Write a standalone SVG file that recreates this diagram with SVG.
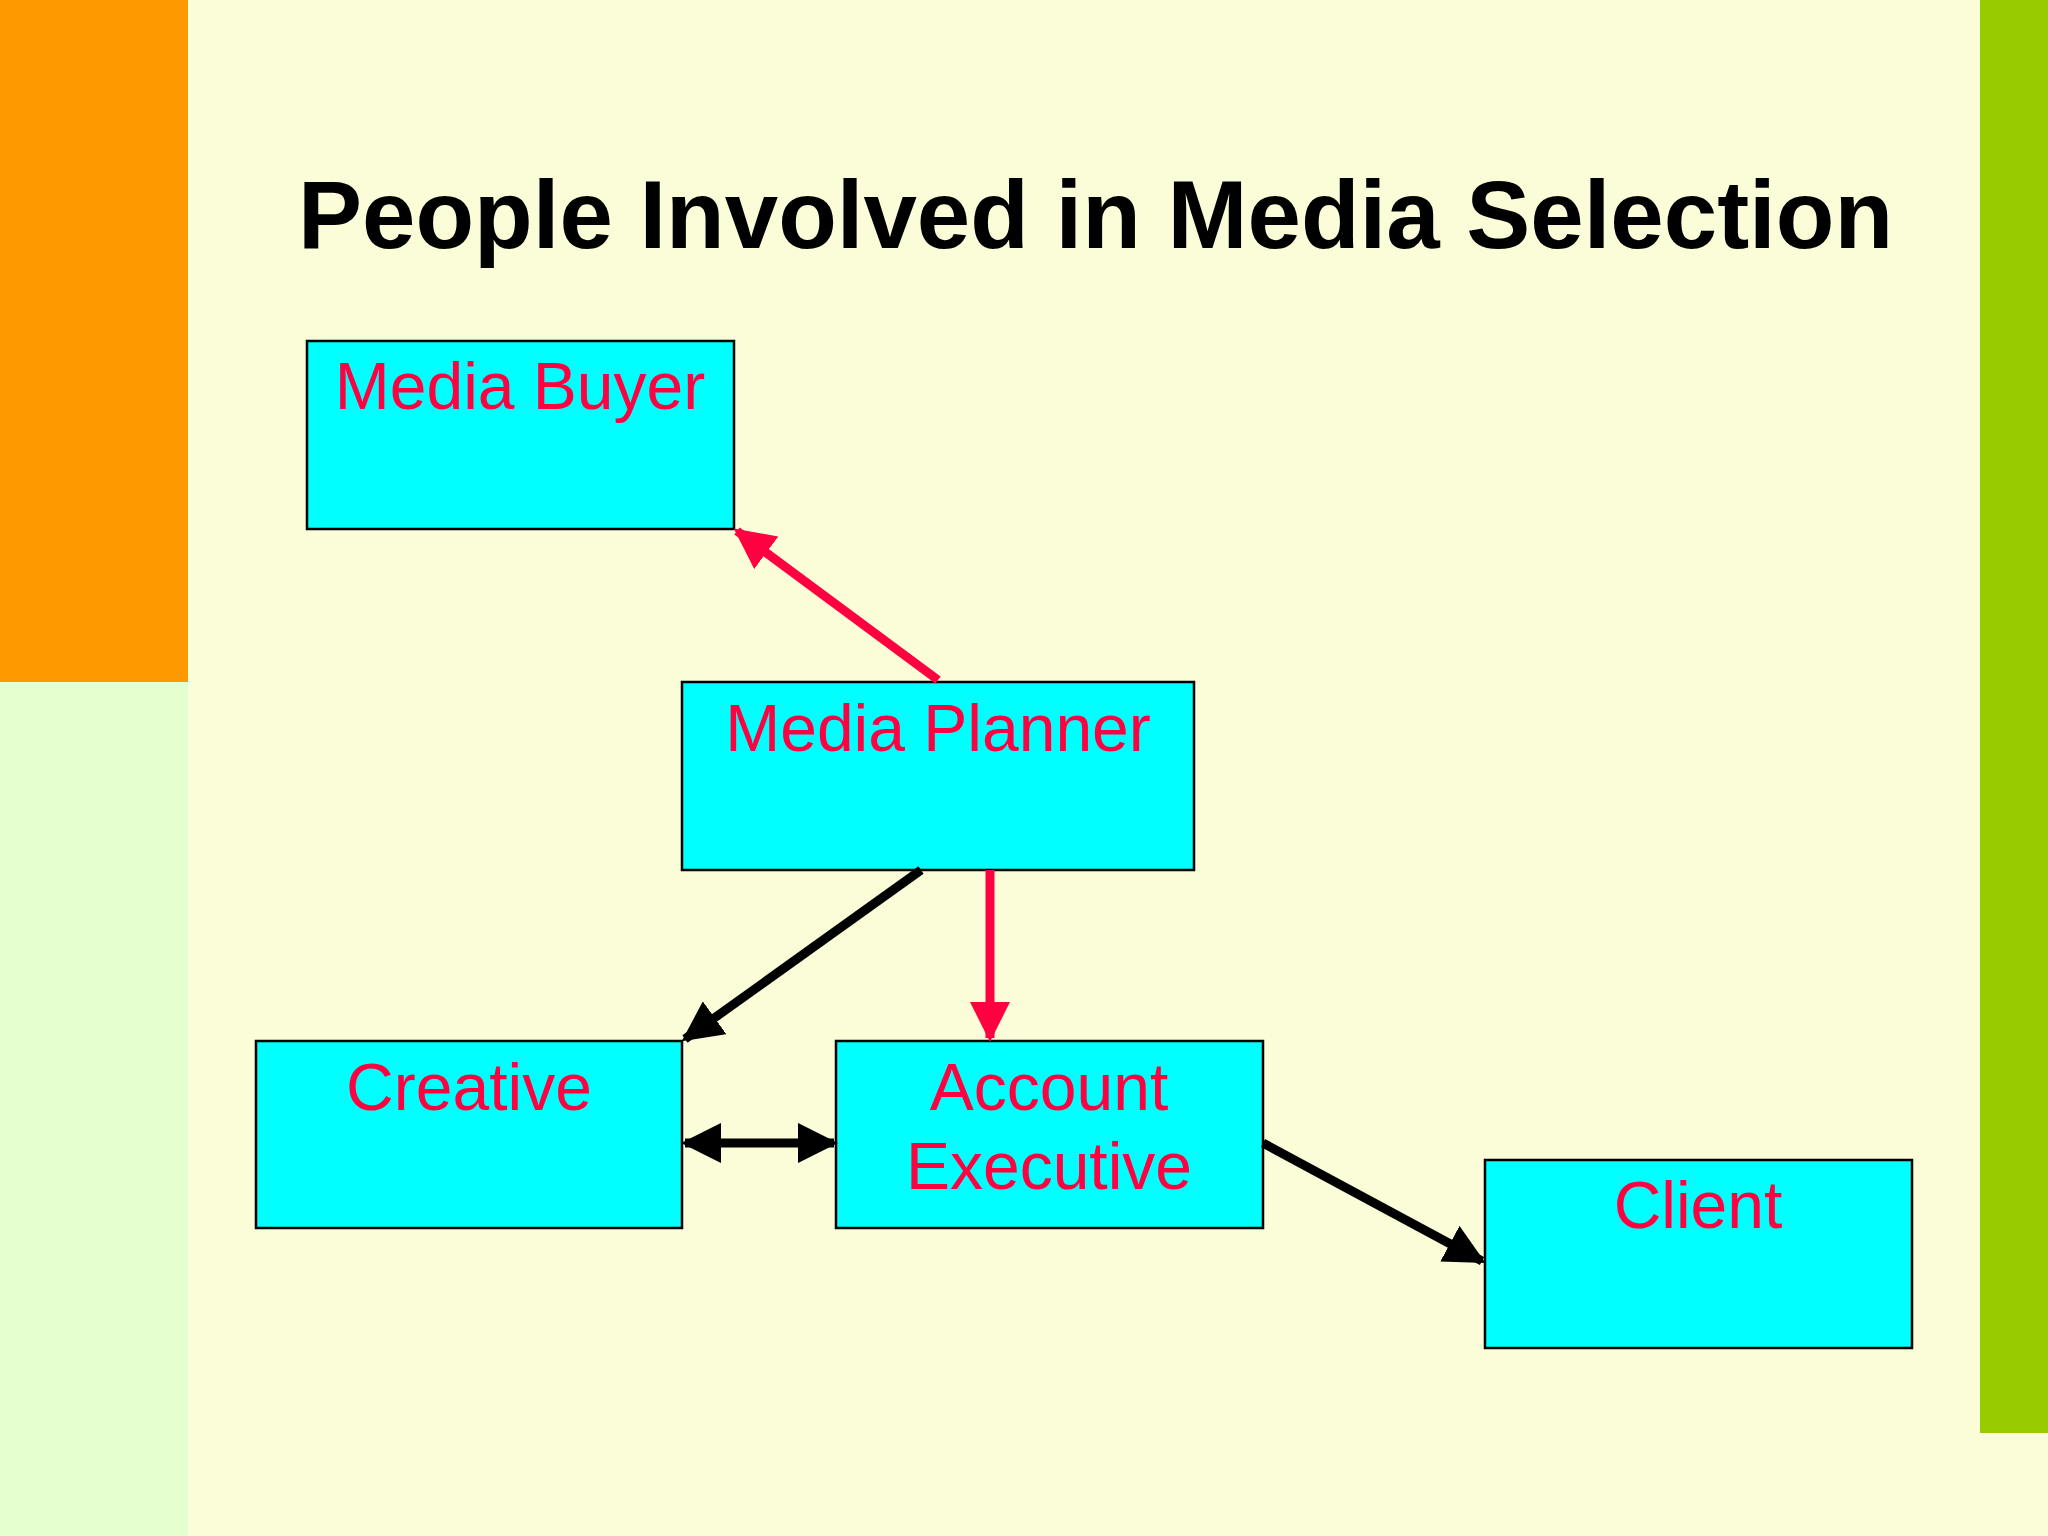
<svg xmlns="http://www.w3.org/2000/svg" width="2048" height="1536" viewBox="0 0 2048 1536">
<style>
.box{fill:#00FFFF;stroke:#000;stroke-width:2.5}
.lbl{font-family:"Liberation Sans",Arial,sans-serif;font-size:66px;fill:#FF0040;text-anchor:middle}
.red{stroke:#FF0040;stroke-width:9;fill:none}
.blk{stroke:#000;stroke-width:9;fill:none}
</style>
<defs>
<marker id="ar" viewBox="0 0 10 10" refX="9" refY="5" markerWidth="4.5" markerHeight="4.5" orient="auto-start-reverse" markerUnits="strokeWidth"><path d="M0,0L10,5L0,10z" fill="#FF0040"/></marker>
<marker id="ab" viewBox="0 0 10 10" refX="9" refY="5" markerWidth="4.5" markerHeight="4.5" orient="auto-start-reverse" markerUnits="strokeWidth"><path d="M0,0L10,5L0,10z" fill="#000"/></marker>
</defs>
<rect width="2048" height="1536" fill="#FAFDD8"/>
<rect x="0" y="0" width="188" height="682" fill="#FF9900"/>
<rect x="0" y="682" width="188" height="854" fill="#E6FFCF"/>
<rect x="1980" y="0" width="68" height="1433" fill="#99CC00"/>
<text x="298" y="248" font-family="Liberation Sans,Arial,sans-serif" font-weight="bold" font-size="96" fill="#000">People Involved in Media Selection</text>
<g id="media-buyer"><rect class="box" x="307" y="341" width="427" height="188"/><text class="lbl" x="520" y="409">Media Buyer</text></g>
<g id="media-planner"><rect class="box" x="682" y="682" width="512" height="188"/><text class="lbl" x="938" y="751">Media Planner</text></g>
<g id="creative"><rect class="box" x="256" y="1041" width="426" height="187"/><text class="lbl" x="469" y="1110">Creative</text></g>
<g id="account-executive"><rect class="box" x="836" y="1041" width="427" height="187"/><text class="lbl" x="1049" y="1110">Account</text><text class="lbl" x="1049" y="1189">Executive</text></g>
<g id="client"><rect class="box" x="1485" y="1160" width="427" height="188"/><text class="lbl" x="1698" y="1228">Client</text></g>
<g id="connectors">
<line class="red" x1="938" y1="680" x2="737" y2="531" marker-end="url(#ar)"/>
<line class="red" x1="990" y1="870" x2="990" y2="1038" marker-end="url(#ar)"/>
<line class="blk" x1="921" y1="870" x2="685" y2="1039" marker-end="url(#ab)"/>
<line class="blk" x1="685" y1="1143" x2="834" y2="1143" marker-start="url(#ab)" marker-end="url(#ab)"/>
<line class="blk" x1="1263" y1="1143" x2="1482" y2="1261" marker-end="url(#ab)"/>
</g>
</svg>
